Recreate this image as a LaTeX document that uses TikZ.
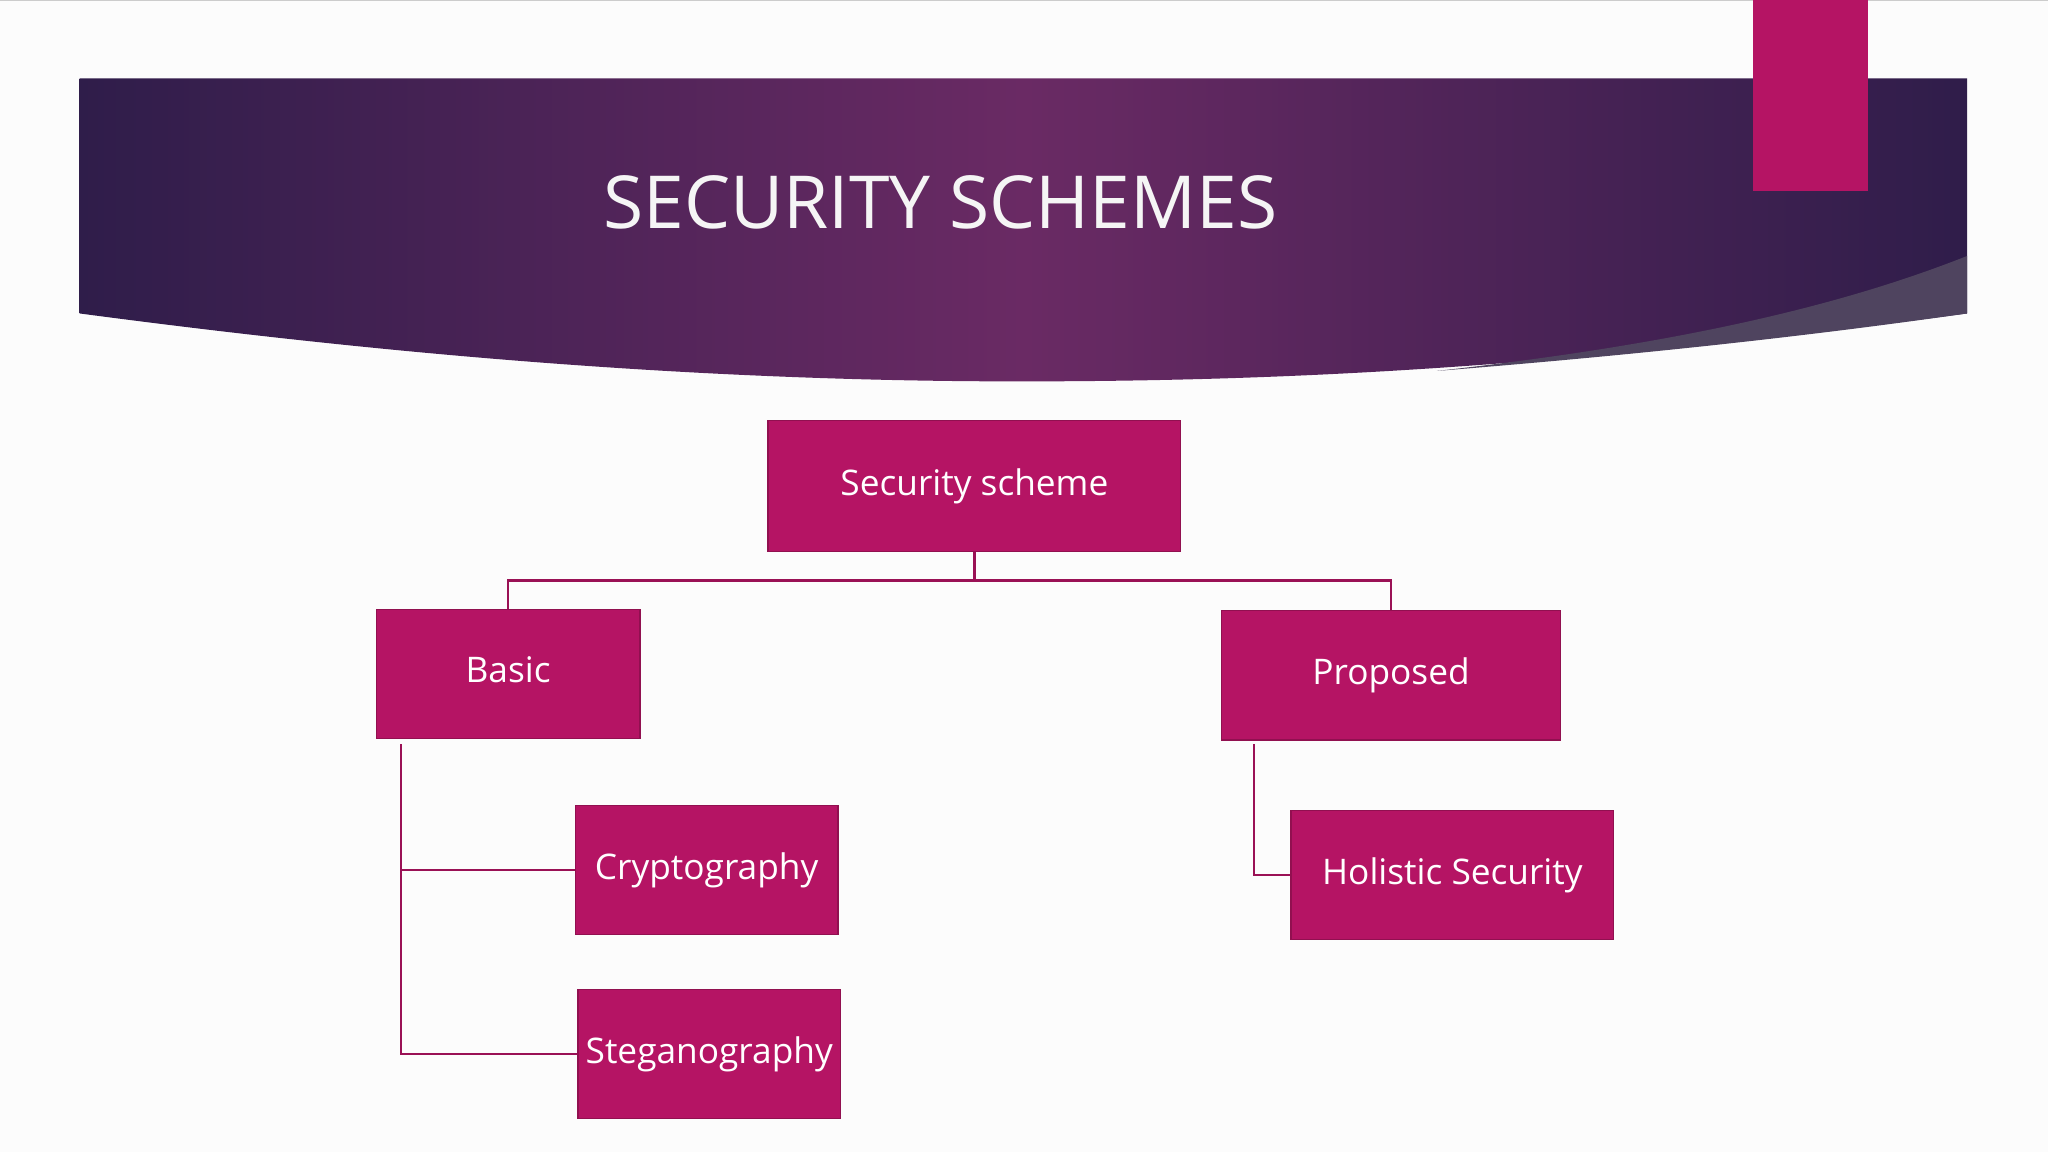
\documentclass[tikz,border=0pt]{standalone}
\usepackage{fontspec}
\setmainfont{Open Sans}
\definecolor{mag}{HTML}{B51464}
\definecolor{pdark}{HTML}{2F1D4A}
\definecolor{pmid}{HTML}{6A2A64}
\tikzset{box/.style={fill=mag,draw=mag!80!black,line width=1pt,text=white,font=\fontsize{27}{32}\selectfont,text depth=6pt},
 link/.style={draw=mag!85!black,line width=2pt}}
\begin{document}
\begin{tikzpicture}[x=1pt,y=-1pt]
\useasboundingbox (0,0) rectangle (1568,882);
\fill[white!98!gray] (0,0) rectangle (1568,882);
\draw[gray!40] (0,0.5)--(1568,0.5);
\shade[left color=pdark,right color=pdark,middle color=pmid] (61,60) -- (1506,60) -- (1506,240) .. controls (1200,280) and (1000,292) .. (780,292) .. controls (500,292) and (250,265) .. (61,240) -- cycle;
\fill[pdark!60!gray] (1100,284) .. controls (1300,262) and (1420,230) .. (1506,196) -- (1506,240) .. controls (1380,258) and (1250,272) .. (1100,284) -- cycle;
\fill[mag] (1342,0) rectangle (1430,146);
\node[text=white!92!gray,font=\fontsize{56}{66}\selectfont] (title) at (720,155) {SECURITY SCHEMES};
\node[box,minimum width=316,minimum height=100] (ss) at (746,372) {Security scheme};
\node[box,minimum width=202,minimum height=99] (basic) at (389,516) {Basic};
\node[box,minimum width=260,minimum height=99] (prop) at (1065,517) {Proposed};
\node[box,minimum width=201,minimum height=99] (cry) at (541,666) {Cryptography};
\node[box,minimum width=201,minimum height=99,inner sep=0pt] (ste) at (543,807) {Steganography};
\node[box,minimum width=247,minimum height=99] (hol) at (1112,670) {Holistic Security};
\coordinate (bt) at (307,570);
\coordinate (pt) at (960,570);
\draw[link] (ss.south) -- ++(0,22) -| (basic.north);
\draw[link] (ss.south) ++(0,22) -| (prop.north);
\draw[link] (bt) |- (ste.west);
\draw[link] (bt |- cry.west) -- (cry.west);
\draw[link] (pt) |- (hol.west);
\end{tikzpicture}
\end{document}
